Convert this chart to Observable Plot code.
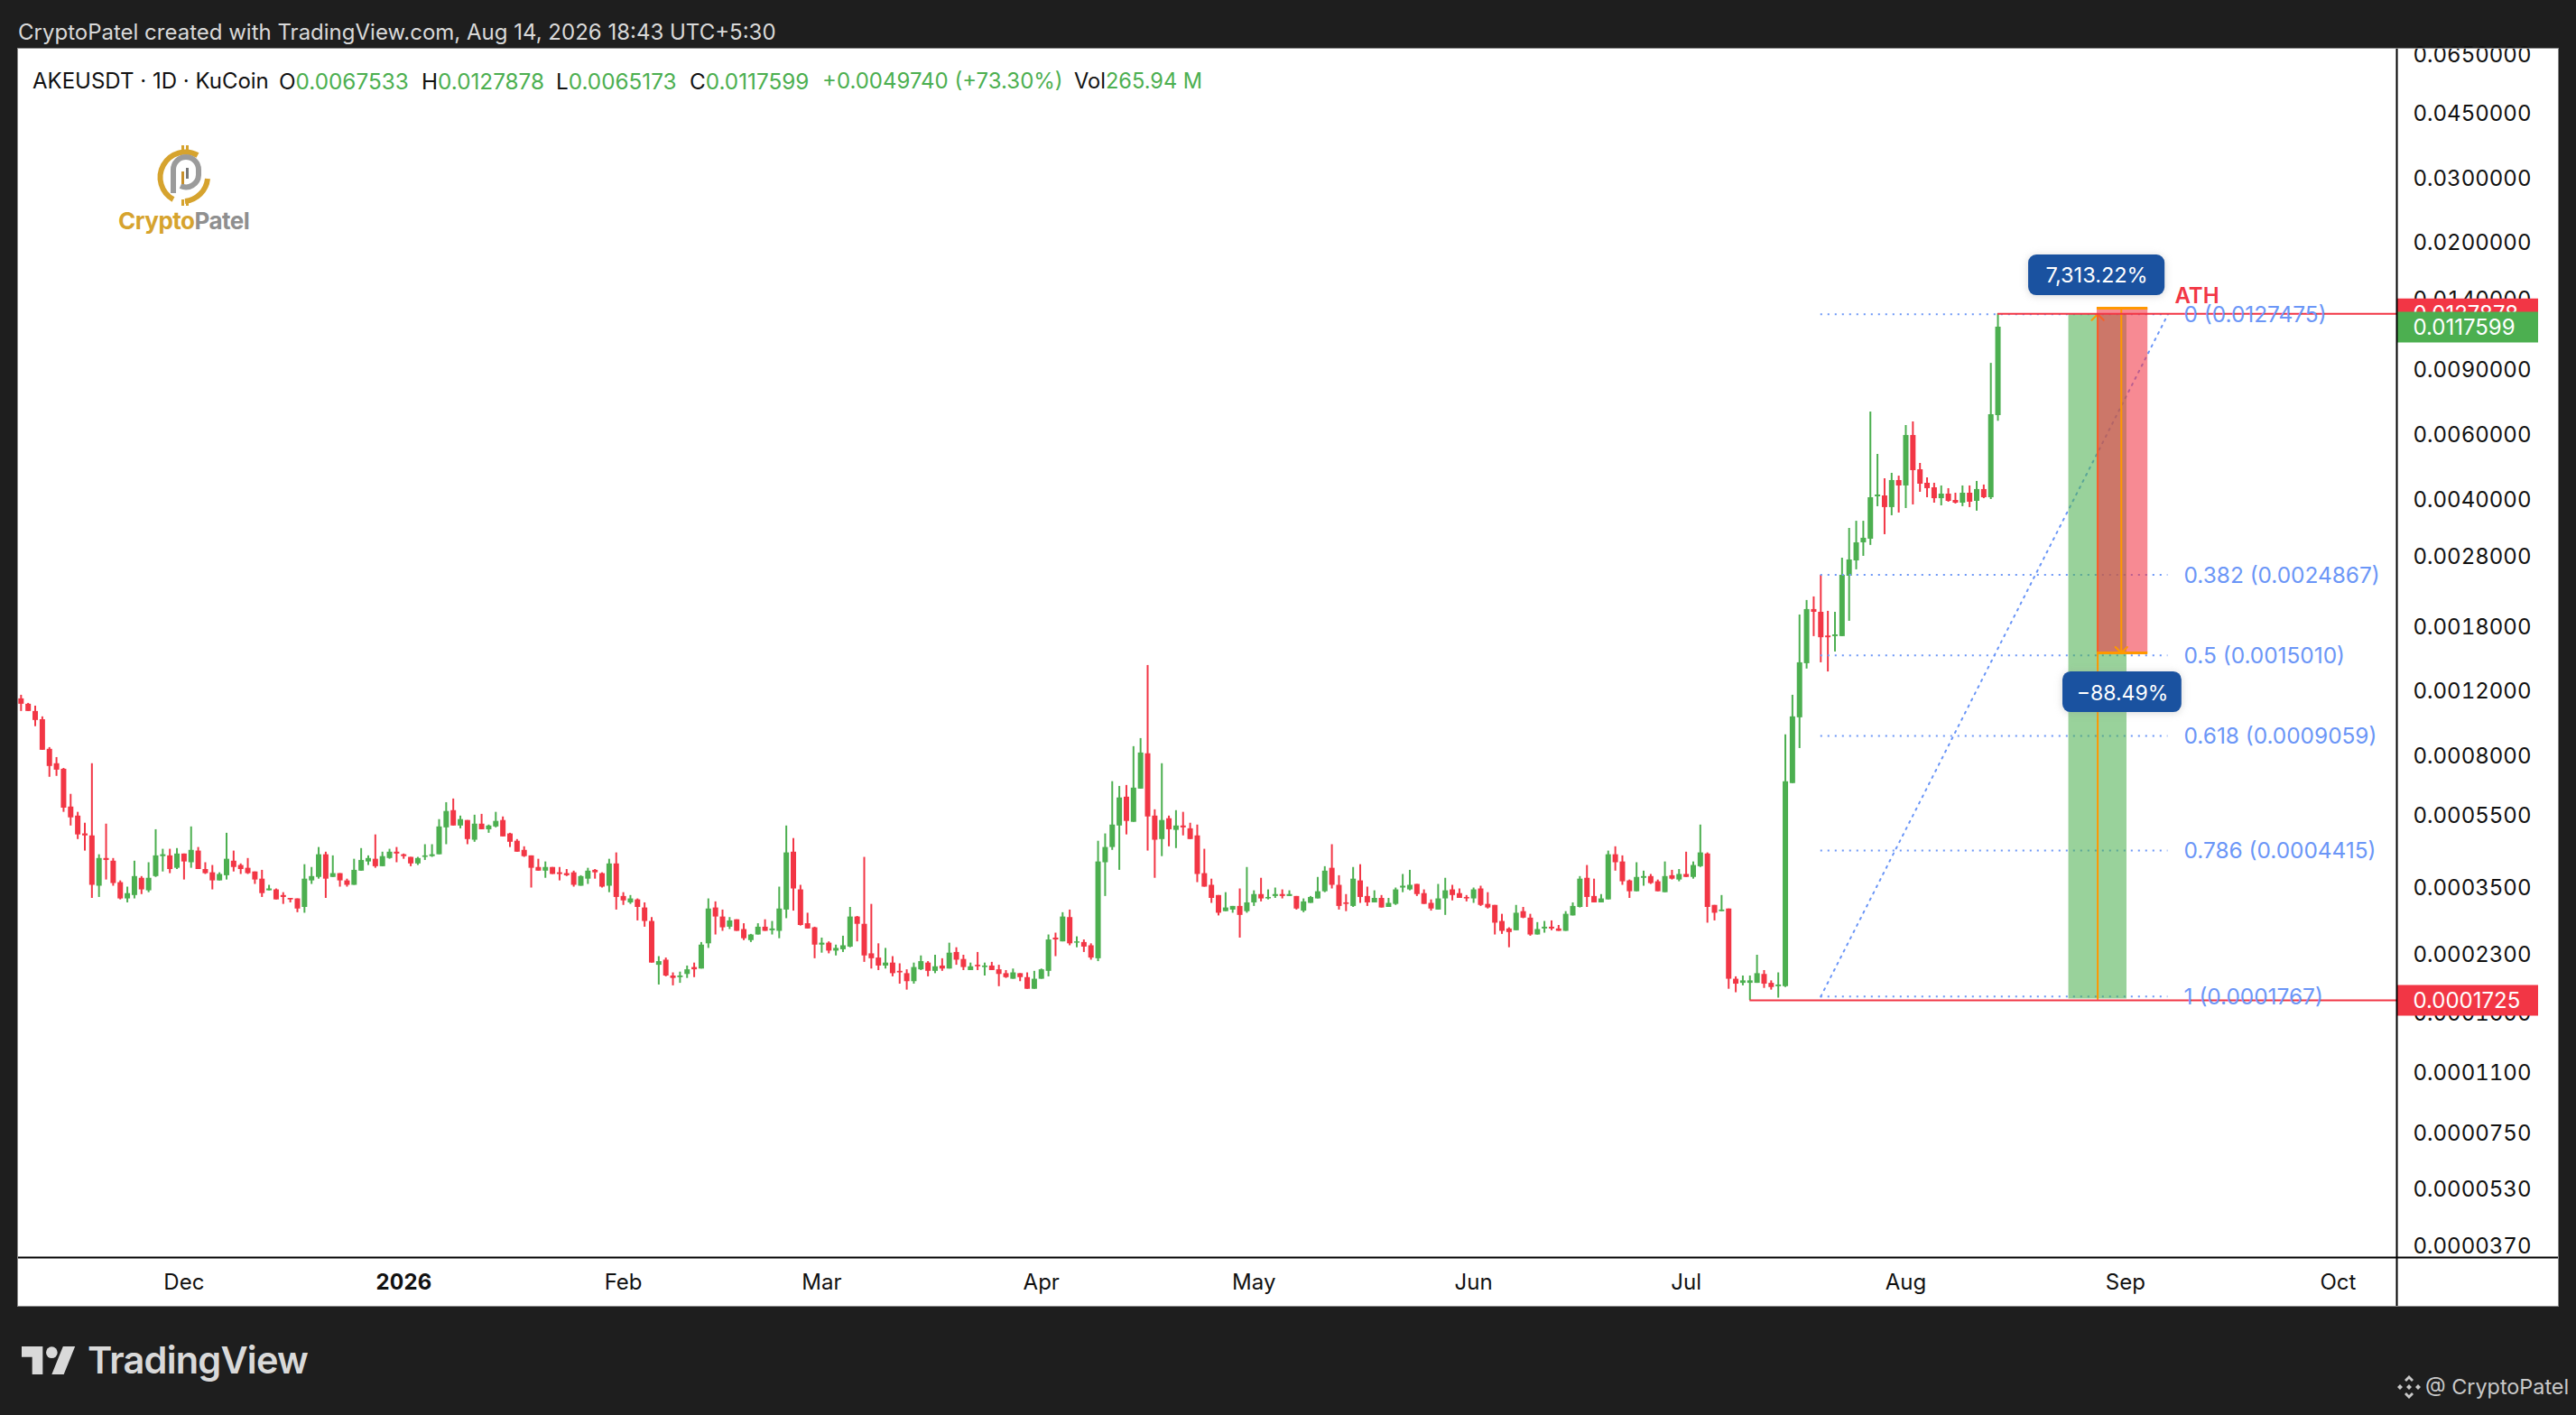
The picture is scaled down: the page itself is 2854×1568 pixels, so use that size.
<!DOCTYPE html>
<html><head><meta charset="utf-8">
<script src="https://cdn.jsdelivr.net/npm/d3@7"></script>
<script src="https://cdn.jsdelivr.net/npm/@observablehq/plot@0.6"></script>
<style>
html,body{margin:0;padding:0;background:#1e1e1e;width:2854px;height:1568px;overflow:hidden;font-family:Inter,Roboto,sans-serif}
.abs{position:absolute;white-space:nowrap;line-height:1}
#chart{position:absolute;left:20px;top:54px}
#chart svg{display:block;outline:1px solid #8a8a8a}
.g{color:#4caf50}.k{color:#111}
</style></head><body>
<div class="abs" style="left:20px;top:24px;font-size:24px;color:#d9d9d9">CryptoPatel created with TradingView.com, Aug 14, 2026 18:43 UTC+5:30</div>
<div id="chart"></div>
<div class="abs k" style="left:36px;top:78px;font-size:24px;z-index:3">AKEUSDT · 1D · KuCoin</div>
<div class="abs k" style="left:309px;top:78px;font-size:24.3px;z-index:3">O<span class="g">0.0067533</span></div>
<div class="abs k" style="left:467px;top:78px;font-size:24.3px;z-index:3">H<span class="g">0.0127878</span></div>
<div class="abs k" style="left:616px;top:78px;font-size:24.3px;z-index:3">L<span class="g">0.0065173</span></div>
<div class="abs k" style="left:764px;top:78px;font-size:24.3px;z-index:3">C<span class="g">0.0117599</span></div>
<div class="abs g" style="left:911px;top:78px;font-size:24px;z-index:3">+0.0049740 (+73.30%)</div>
<div class="abs k" style="left:1190px;top:78px;font-size:23.6px;z-index:3">Vol<span class="g">265.94 M</span></div>
<svg class="abs" style="left:172px;top:160px;z-index:3" width="66" height="70" viewBox="0 0 66 70">
<path d="M47 12A27 27 0 1 0 20 61" fill="none" stroke="#d6a32e" stroke-width="6"/>
<path d="M33 63A28 28 0 0 0 58 38" fill="none" stroke="#d6a32e" stroke-width="6"/>
<rect x="29" y="1" width="3" height="7" fill="#d6a32e"/><rect x="34" y="1" width="3" height="7" fill="#d6a32e"/>
<rect x="29" y="61" width="3" height="7" fill="#d6a32e"/><rect x="34" y="61" width="3" height="7" fill="#d6a32e"/>
<path d="M20 54V28A14 14 0 0 1 48 28V34A14 14 0 0 1 28 46" fill="none" stroke="#9b9b9b" stroke-width="6"/>
<rect x="29" y="30" width="3" height="14" fill="#c78f2a"/><rect x="34" y="26" width="3" height="12" fill="#777"/>
</svg>
<div class="abs" style="left:131px;top:232px;font-size:26px;font-weight:700;color:#d6a32e;z-index:3;letter-spacing:-.5px">Crypto<span style="color:#8f8f8f">Patel</span></div>
<svg class="abs" style="left:24px;top:1492px" width="60" height="31" viewBox="0 0 36 18.6">
<path d="M14 18.6H7V7H0V0h14v18.6zM28 18.6h-8L27.5 0h8L28 18.6z" fill="#d9d9d9"/><circle cx="20" cy="4" r="3.8" fill="#d9d9d9"/>
</svg>
<div class="abs" style="left:97px;top:1487px;font-size:41.5px;font-weight:600;color:#d9d9d9;letter-spacing:-.8px">TradingView</div>
<svg class="abs" style="left:2655px;top:1523px" width="28" height="28" viewBox="0 0 28 28" fill="#c9c9c9">
<path d="M14 1l5 5-2 2-3-3-3 3-2-2zM14 27l5-5-2-2-3 3-3-3-2 2zM1 14l3-3 3 3-3 3zM21 14l3-3 3 3-3 3zM14 11l3 3-3 3-3-3z"/>
</svg>
<div class="abs" style="left:2687px;top:1525px;font-size:23.4px;color:#c9c9c9">@ CryptoPatel</div>
<script>
// Daily candles of AKEUSDT, 2025-11-08 to 2026-08-14, prices in millionths of USDT
const unit = 1e-6;
const opens = [
1143,1105,1056,1003,833,761,735,580,548,490,
484,353,420,413,361,326,333,371,343,375,
425,427,395,432,409,440,392,384,365,377,
413,402,395,386,369,343,345,333,327,326,
309,365,373,430,373,382,365,355,388,411,
418,399,420,437,430,423,406,423,425,430,
509,567,515,533,471,521,503,512,533,490,
468,442,427,397,388,397,384,382,384,353,
369,390,382,353,406,331,318,324,308,283,
215,222,201,199,203,212,210,246,308,291,
273,286,269,251,260,273,267,266,304,437,
345,279,272,244,247,235,237,241,291,278,
231,225,214,218,207,204,194,209,218,207,
214,210,233,223,208,215,212,214,209,204,
197,204,199,185,197,207,255,249,290,247,
248,243,224,409,450,515,617,527,649,810,
548,473,539,501,515,506,484,382,355,333,
301,304,311,301,318,335,326,331,335,331,
331,302,317,326,341,395,355,318,311,365,
331,318,327,309,315,349,345,357,337,317,
304,326,345,337,329,326,347,315,313,283,
270,267,301,289,260,270,273,270,266,293,
309,371,331,318,324,430,411,365,341,371,
375,363,339,377,367,380,373,399,432,313,
301,306,197,192,192,192,203,192,188,188,
672,1015,1425,2001,1967,1695,1689,1689,2466,2715,
3041,3111,4058,4081,3793,4494,4344,5960,4808,4418,
4294,4011,4127,3967,3900,4150,3945,4247,4035,6753.3];
const highs = [
1169,1111,1092,1021,842,791,739,628,561,524,
761,430,521,420,365,351,413,375,409,503,
445,445,447,432,512,450,409,402,384,492,
440,406,420,386,390,355,347,339,327,326,
404,397,450,437,427,382,369,418,447,427,
487,437,445,450,432,423,423,458,458,536,
596,610,548,533,551,554,518,561,545,492,
473,452,427,418,411,397,397,392,388,377,
395,392,384,418,435,339,333,326,318,290,
227,225,205,206,214,218,248,326,320,304,
290,286,279,261,279,286,283,351,515,476,
355,298,273,255,249,244,258,309,292,423,
315,246,239,227,217,209,218,228,220,229,
224,247,240,229,218,233,218,219,215,208,
210,204,205,207,210,260,263,299,304,257,
252,246,468,490,680,660,664,847,891,1409,
570,761,548,567,561,524,518,445,369,333,
339,311,347,397,343,371,345,349,345,343,
331,326,331,373,399,458,377,335,397,404,
351,343,333,327,349,380,390,357,345,324,
357,371,355,347,333,349,353,339,313,296,
272,313,309,296,281,283,284,276,301,318,
375,402,369,335,440,452,427,367,409,388,
380,367,411,390,392,437,411,518,435,313,
333,306,200,201,201,229,208,195,205,912,
1169,1934,2118,2166,2481,1979,1967,2762,3329,3481,
3481,6905,5295,4544,4702,4620,6345,6490,5003,4570,
4418,4344,4271,4150,4344,4344,4469,4369,9370,12787.8];
const lows = [
1056,1056,960,828,699,703,561,515,473,440,
327,329,367,353,324,318,326,335,339,373,
386,382,392,367,395,392,380,345,365,367,
386,380,380,357,329,343,324,315,318,299,
298,357,369,327,373,351,351,355,388,402,
395,399,418,409,418,399,402,415,423,430,
458,515,506,458,465,503,492,509,481,450,
437,423,349,388,371,380,365,375,351,353,
357,369,349,339,304,313,315,284,273,218,
190,200,189,192,198,199,210,239,260,266,
269,266,251,248,260,266,260,254,288,302,
275,270,224,232,231,228,233,240,249,219,
210,208,210,200,191,184,191,208,200,204,
207,210,215,208,208,208,201,208,188,198,
197,194,185,185,197,200,227,249,243,240,
233,222,220,331,442,390,487,527,649,440,
371,425,452,447,484,473,361,351,317,293,
301,298,255,298,311,320,324,327,326,331,
304,299,317,326,339,347,304,301,309,317,
311,318,308,309,313,339,343,331,315,302,
304,294,322,327,320,317,311,306,260,261,
240,267,288,258,260,263,267,266,266,293,
308,309,318,318,324,388,355,327,341,353,
357,341,339,367,363,373,369,397,280,284,
301,185,181,189,172.5,192,186,184,175,187,
672,837,1378,1689,1433,1353,1534,1689,1859,2567,
2794,2992,3814,3200,3604,3666,3771,3857,4175,4035,
3900,3835,3923,3879,3814,3793,3709,4011,3990,6517.3];
const closes = [
1105,1056,998,828,748,731,576,542,487,484,
355,420,415,359,326,337,375,345,371,427,
430,392,432,411,442,392,382,365,380,418,
397,392,382,367,337,347,324,329,324,306,
369,375,430,369,382,365,355,390,415,420,
399,425,437,432,425,406,420,427,430,512,
564,515,536,473,521,503,515,530,481,465,
437,425,395,388,397,380,380,377,355,375,
388,384,351,406,329,322,326,309,283,218,
220,201,198,201,209,209,244,306,291,272,
284,266,254,260,273,266,270,306,435,347,
276,270,244,247,235,239,243,291,278,228,
224,214,218,204,205,194,212,220,207,213,
210,232,222,212,213,213,214,208,203,199,
205,199,185,197,209,252,252,291,246,249,
241,225,411,450,518,614,530,653,814,545,
471,533,503,515,509,473,380,351,327,298,
308,311,294,318,335,326,329,335,331,335,
306,320,329,341,388,355,311,315,369,329,
318,327,308,317,345,353,355,335,315,306,
326,343,333,327,326,345,313,308,280,266,
264,298,289,260,269,273,270,266,296,311,
369,329,318,326,430,409,363,341,373,375,
359,341,375,369,380,373,402,435,309,298,
304,197,191,195,195,204,191,187,190,680,
1021,1433,2001,1967,1677,1677,1707,2481,2731,3041,
3129,4035,4104,3793,4494,4344,5960,4782,4392,4271,
4011,4127,3945,3900,4150,3923,4247,4035,6790,11759.9];
const startDay = "2025-11-08";

const priceTicks = [0.065,0.045,0.03,0.02,0.014,0.009,0.006,0.004,0.0028,0.0018,0.0012,0.0008,0.00055,0.00035,0.00023,0.00016,0.00011,0.000075,0.000053,0.000037];
const monthTicks = ["2025-12-01","2026-02-01","2026-03-01","2026-04-01","2026-05-01","2026-06-01","2026-07-01","2026-08-01","2026-09-01","2026-10-01"];
const yearTick = ["2026-01-01"];
const fibRatios = [0,0.382,0.5,0.618,0.786,1];
const fibPrices = [0.0127475,0.0024867,0.0015010,0.0009059,0.0004415,0.0001767];
const athPrice = 0.0127878, lastPrice = 0.0117599, lowPrice = 0.0001725;

const D = s => new Date(s);
const RED = "#f23645", GREEN = "#4caf50", BLUE = "#6b96f7", ORANGE = "#ff9800", BADGE = "#1a52a0";
const DAY = 864e5;
const t0 = +D(startDay);
const candles = opens.map((o,i)=>({date:new Date(t0+i*DAY),open:o*unit,high:highs[i]*unit,low:lows[i]*unit,close:closes[i]*unit}));
const up = d => d.close >= d.open;
const color = d => up(d) ? GREEN : RED;

const xMin = D("2025-11-07T15:21Z"), xMax = D("2026-10-09T07:12Z");
const tagEnd = D("2026-10-29T07:12Z"), panelEnd = D("2026-11-01T03:00Z");
const yMax = 0.06719, yMin = 0.00003439, panelFloor = 0.00002534;
const fibFrom = D("2026-07-20"), fibTo = D("2026-09-07"), fibLabelAt = D("2026-09-09T06:00Z"), tagText = D("2026-10-11T14:00Z");
const lowDay = candles[244].date, lastDay = candles[279].date;
const fibs = fibRatios.map((r,i)=>({r,p:fibPrices[i],at:fibLabelAt,label:`${r} (${fibPrices[i].toFixed(7)})`}));
const priceLabel = p => ({at:tagText,p,label:p.toFixed(7)});
const shortTop = 0.01324, shortBottom = 0.001524, longBottom = 0.000174;
const axisFont = {fontSize:24,fontFamily:"Inter"};

const chart = Plot.plot({
  width:2814,height:1393,marginLeft:0,marginRight:179,marginTop:0,marginBottom:54,
  style:{background:"#fff",fontFamily:"Inter",color:"#111",overflow:"visible"},
  x:{type:"utc",domain:[xMin,xMax]},
  y:{type:"log",domain:[yMin,yMax]},
  marks:[
    Plot.axisY({anchor:"right",ticks:priceTicks,text:d=>d.toFixed(7),tickSize:0,tickPadding:18,label:null,textAnchor:"start",fill:"#111",dy:1,...axisFont}),
    Plot.axisX({ticks:monthTicks.map(D),tickFormat:d3.utcFormat("%b"),tickSize:0,tickPadding:18,label:null,fill:"#111",...axisFont}),
    Plot.axisX({ticks:yearTick.map(D),tickFormat:d3.utcFormat("%Y"),tickSize:0,tickPadding:18,label:null,fill:"#111",fontWeight:700,...axisFont}),
    // candles
    Plot.ruleX(candles,{x:"date",y1:"low",y2:"high",stroke:color,strokeWidth:2}),
    Plot.ruleX(candles,{x:"date",y1:"open",y2:"close",stroke:color,strokeWidth:6}),
    // fib retracement
    Plot.ruleY(fibs,{y:"p",x1:fibFrom,x2:fibTo,stroke:BLUE,strokeWidth:2,strokeDasharray:"2 6"}),
    Plot.line([{x:fibFrom,y:fibPrices[5]},{x:fibTo,y:fibPrices[0]}],{x:"x",y:"y",stroke:BLUE,strokeWidth:2,strokeDasharray:"2 6"}),
    // range boxes
    Plot.rect([0],{x1:D("2026-08-24"),x2:D("2026-09-01T05:00Z"),y1:longBottom,y2:fibPrices[0],fill:GREEN,fillOpacity:0.57}),
    Plot.arrow([0],{x1:D("2026-08-28T02:00Z"),x2:D("2026-08-28T02:00Z"),y1:longBottom,y2:fibPrices[0],stroke:ORANGE,strokeWidth:2,headLength:7,headAngle:90}),
    Plot.rect([0],{x1:D("2026-08-28"),x2:D("2026-09-04T04:00Z"),y1:shortBottom,y2:shortTop,fill:RED,fillOpacity:0.58}),
    Plot.ruleY([shortTop,shortBottom],{x1:D("2026-08-28"),x2:D("2026-09-04T04:00Z"),stroke:ORANGE,strokeWidth:3}),
    Plot.arrow([0],{x1:D("2026-08-31T10:00Z"),x2:D("2026-08-31T10:00Z"),y1:shortTop,y2:shortBottom,stroke:ORANGE,strokeWidth:2,headLength:7,headAngle:90}),
    // ATH and low rays
    Plot.ruleY([athPrice],{x1:lastDay,x2:xMax,stroke:RED,strokeWidth:2}),
    Plot.ruleY([lowPrice],{x1:lowDay,x2:xMax,stroke:RED,strokeWidth:2}),
    Plot.text(fibs,{x:"at",y:"p",text:"label",textAnchor:"start",fill:BLUE,fontSize:24.4,dy:1}),
    Plot.text([{at:D("2026-09-07T23:00Z"),p:0.01433,label:"ATH"}],{x:"at",y:"p",text:"label",textAnchor:"start",fill:RED,fontSize:24,fontWeight:600,dy:1}),
    // badges
    Plot.rect([0],{x1:D("2026-08-18T08:00Z"),x2:D("2026-09-06T14:00Z"),y1:0.01433,y2:0.01849,fill:BADGE,rx:9,imageFilter:"drop-shadow(0 1px 4px #9996)"}),
    Plot.text([{at:D("2026-08-27T23:00Z"),p:0.01628,label:"7,313.22%"}],{x:"at",y:"p",text:"label",fill:"#fff",fontSize:23.5}),
    Plot.rect([0],{x1:D("2026-08-23T04:00Z"),x2:D("2026-09-08T23:00Z"),y1:0.001049,y2:0.001354,fill:BADGE,rx:9,imageFilter:"drop-shadow(0 1px 4px #9996)"}),
    Plot.text([{at:D("2026-08-31T14:00Z"),p:0.001192,label:"−88.49%"}],{x:"at",y:"p",text:"label",fill:"#fff",fontSize:23,dy:2}),
    // price-axis tags
    Plot.ruleY([athPrice],{x1:xMax,x2:tagEnd,stroke:RED,strokeWidth:34}),
    Plot.text([priceLabel(athPrice)],{x:"at",y:"p",text:"label",textAnchor:"start",fill:"#fff",dy:1,...axisFont}),
    Plot.ruleY([lastPrice],{x1:xMax,x2:tagEnd,stroke:GREEN,strokeWidth:34}),
    Plot.text([priceLabel(lastPrice)],{x:"at",y:"p",text:"label",textAnchor:"start",fill:"#fff",dy:1,...axisFont}),
    Plot.ruleY([lowPrice],{x1:xMax,x2:tagEnd,stroke:RED,strokeWidth:34}),
    Plot.text([priceLabel(lowPrice)],{x:"at",y:"p",text:"label",textAnchor:"start",fill:"#fff",dy:1,...axisFont}),
    // frame lines
    Plot.ruleX([xMax],{y1:panelFloor,y2:yMax,stroke:"#000",strokeWidth:2}),
    Plot.ruleY([yMin],{x1:xMin,x2:panelEnd,stroke:"#000",strokeWidth:2})
  ]
});
document.getElementById("chart").appendChild(chart);
</script>
</body></html>
